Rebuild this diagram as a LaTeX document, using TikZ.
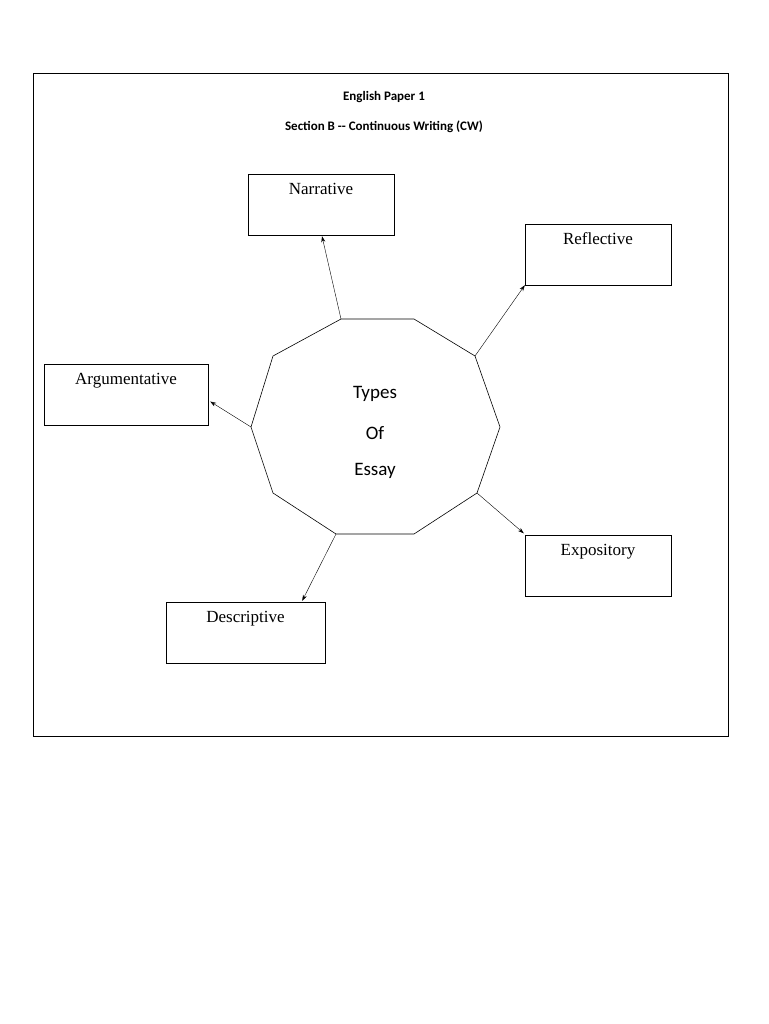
\documentclass[tikz,border=0pt]{standalone}
\usepackage{fontspec}
\setmainfont{Liberation Serif}
\newfontfamily\titlefont{Carlito}
\usetikzlibrary{positioning,calc,arrows.meta}

\tikzset{
    essaybox/.style={draw, thin, minimum width=146pt, minimum height=61pt, inner sep=0pt},
    boxtext/.style={font=\fontsize{17}{20}\selectfont, inner sep=0pt},
    typetext/.style={font=\titlefont\fontsize{19}{22}\selectfont, inner sep=0pt},
    pointer/.style={-{Stealth[length=6pt,width=4pt]}, thin},
}

\begin{document}
\begin{tikzpicture}[x=1pt, y=-1pt]
    \useasboundingbox (0,0) rectangle (768,1024);
    \draw[thin] (33,73) rectangle (728,736);

    % heading
    \node[font=\titlefont\bfseries\fontsize{13}{15}\selectfont] (head1) at (384,97) {English Paper 1};
    \node[font=\titlefont\bfseries\fontsize{13}{15}\selectfont] (head2) at (384,127) {Section B -- Continuous Writing (CW)};

    % the decagon
    \coordinate (v1) at (341,319);
    \coordinate (v2) at (414,319);
    \coordinate (v3) at (475,356);
    \coordinate (v4) at (500,427);
    \coordinate (v5) at (477,493);
    \coordinate (v6) at (414,534);
    \coordinate (v7) at (336,534);
    \coordinate (v8) at (273,493);
    \coordinate (v9) at (251,427);
    \coordinate (v10) at (273,356);
    \draw[semithick] (v1) -- (v2) -- (v3) -- (v4) -- (v5) -- (v6) -- (v7) -- (v8) -- (v9) -- (v10) -- cycle;
    \node[typetext] (types) at (375,394) {Types};
    \node[typetext] (of) at (375,433) {Of};
    \node[typetext] (essay) at (375,471) {Essay};

    % boxes
    \node[essaybox] (narr) at (321,204.5) {};
    \node[boxtext, below=9pt of narr.north] {Narrative};
    \node[essaybox] (refl) at (598,254.5) {};
    \node[boxtext, below=9pt of refl.north] {Reflective};
    \node[essaybox, minimum width=164pt] (arg) at (126,394.5) {};
    \node[boxtext, below=9pt of arg.north] {Argumentative};
    \node[essaybox] (expo) at (598,566) {};
    \node[boxtext, below=9pt of expo.north] {Expository};
    \node[essaybox, minimum width=159pt] (desc) at (245.5,632.5) {};
    \node[boxtext, below=9pt of desc.north] {Descriptive};

    % arrows
    \draw[pointer] (v1) -- ($(narr.south)+(1,1)$);
    \draw[pointer] (v3) -- (refl.south west);
    \draw[pointer] (v9) -- ($(arg.east)+(2,7)$);
    \draw[pointer] (v5) -- ($(expo.north west)+(-1,-2)$);
    \draw[pointer] (v7) -- ($(desc.north east)+(-23,-1)$);
\end{tikzpicture}
\end{document}
